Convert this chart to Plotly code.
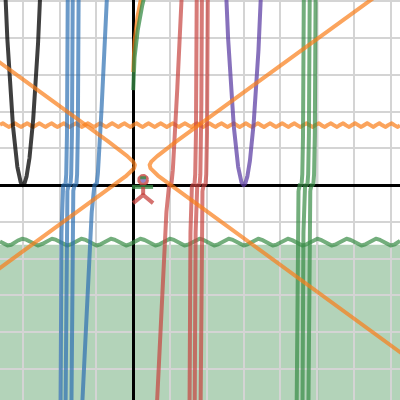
import numpy as np
import plotly.graph_objects as go

X_RANGE = [-3.62, 7.25]
Y_RANGE = [-5.84, 5.03]

parabola_vertex_x = [-3.0, 3.0]
parabola_k = [22.5, 22.5]
parabola_colors = ["#000000", "#6042a6"]

blue_offsets = [-1.875, -1.74, -1.58]
red_offsets = [1.63, 1.77, 1.93]
green_offsets = [4.54, 4.70, 4.86]
slant_offsets = [-1.03, 1.0]
slant_colors = ["#2d70b3", "#c74440"]

hyper_center = [0.245, 0.53]
hyper_a = 0.2
hyper_b = 0.145

wave_orange = [1.63, 0.05, 0.33]   # level, amplitude, period
wave_green = [-1.55, 0.09, 0.8]
fill_top = -1.62

root_start = [3.07, 2.58]
root_k = [4.4, 4.65]
root_colors = ["#fa7e19", "#388c46"]

RED, BLUE, GREEN, PURPLE, ORANGE = "#c74440", "#2d70b3", "#388c46", "#6042a6", "#fa7e19"

fig = go.Figure()
def line(x, y, c, w=4, op=0.75):
    fig.add_trace(go.Scatter(x=x, y=y, mode="lines", line=dict(color=c, width=w),
                             opacity=op, hoverinfo="skip", showlegend=False))

fig.add_shape(type="rect", x0=X_RANGE[0]-1, x1=X_RANGE[1]+1, y0=Y_RANGE[0]-1, y1=fill_top,
              fillcolor="rgba(56,140,70,0.38)", line_width=0, layer="below")

xs = np.linspace(X_RANGE[0], X_RANGE[1], 3000)
line(xs, wave_orange[0] + wave_orange[1]*np.sin(2*np.pi*xs/wave_orange[2]), ORANGE, 4, 0.7)
line(xs, wave_green[0] + wave_green[1]*np.sin(2*np.pi*xs/wave_green[2]), GREEN, 4, 0.7)

for vx, k, c in zip(parabola_vertex_x, parabola_k, parabola_colors):
    px = np.linspace(vx-0.6, vx+0.6, 400)
    line(px, k*(px-vx)**2, c, 4, 0.75)

ys = np.concatenate([np.linspace(Y_RANGE[0]-0.5, -0.3, 100), np.linspace(-0.3, 0.3, 600), np.linspace(0.3, Y_RANGE[1]+0.5, 100)])
kink = 0.07*np.sign(ys)*np.abs(ys)**0.2
for offs, c in [(blue_offsets, BLUE), (red_offsets, RED), (green_offsets, GREEN)]:
    for o in offs:
        line(o + kink, ys, c, 4, 0.7)
for o, c in zip(slant_offsets, slant_colors):
    line(o + 0.043*ys + kink, ys, c, 4, 0.7)

h, k0 = hyper_center
t = np.linspace(-4.5, 4.5, 800)
line(h + hyper_a*np.cosh(t), k0 + hyper_b*np.sinh(t), ORANGE, 4, 0.7)
line(h - hyper_a*np.cosh(t), k0 + hyper_b*np.sinh(t), ORANGE, 4, 0.7)

for y0, kk, c in zip(root_start, root_k, root_colors):
    rx = np.linspace(0, 0.35, 200)
    line(rx, y0 + kk*np.sqrt(rx), c, 4, 0.75)

th = np.linspace(0, 2*np.pi, 60)
fig.add_trace(go.Scatter(x=0.27+0.12*np.cos(th), y=0.14+0.12*np.sin(th), mode="lines",
                         fill="toself", fillcolor="rgba(96,66,166,0.8)",
                         line=dict(color=RED, width=3), opacity=0.8, hoverinfo="skip", showlegend=False))
line([0.19, 0.35], [0.2, 0.2], GREEN, 3, 0.8)
line([-0.03, 0.54], [-0.05, -0.05], GREEN, 4, 0.75)
line([0.27, 0.27], [-0.05, -0.27], RED, 4, 0.75)
line([0.0, 0.27, 0.54], [-0.49, -0.27, -0.49], RED, 4, 0.75)

for v in [5, -5]:
    fig.add_shape(type="line", x0=v, x1=v, y0=Y_RANGE[0], y1=Y_RANGE[1], line=dict(color="#999", width=2), layer="below")
    fig.add_shape(type="line", y0=v, y1=v, x0=X_RANGE[0], x1=X_RANGE[1], line=dict(color="#999", width=2), layer="below")

ax = dict(showgrid=True, gridcolor="#d4d4d4", gridwidth=1.5, dtick=1, tick0=0,
          zeroline=True, zerolinecolor="black", zerolinewidth=2.5, showticklabels=False, ticks="")
fig.update_layout(width=400, height=400, margin=dict(l=0, r=0, t=0, b=0),
                  plot_bgcolor="white", paper_bgcolor="white",
                  xaxis=dict(range=X_RANGE, **ax), yaxis=dict(range=Y_RANGE, **ax))
fig.write_html("out.html", config={"displayModeBar": False},
               post_script="document.body.style.margin='0';document.body.style.overflow='hidden';")
